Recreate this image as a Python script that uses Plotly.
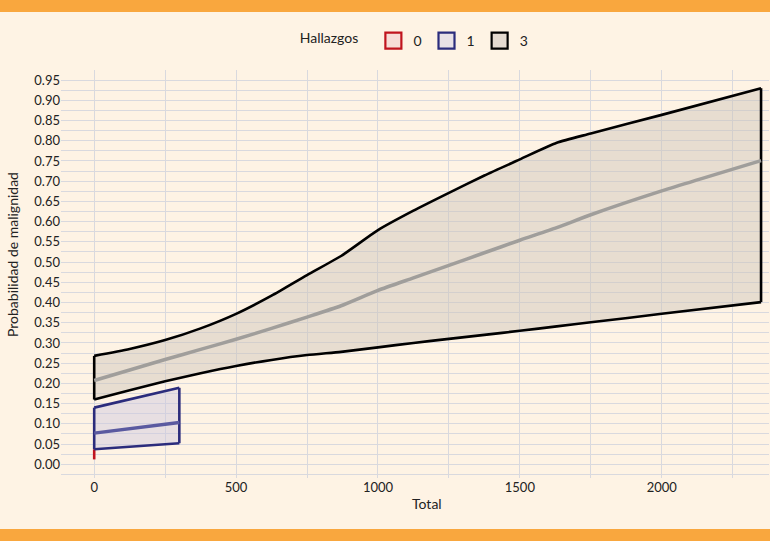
import plotly.graph_objects as go

# ---- data ----
total_3 = [0, 125, 250, 375, 500, 625, 750, 870, 1000, 1125, 1250, 1375, 1500, 1630, 1750, 2000, 2350]
upper_3 = [0.268, 0.285, 0.307, 0.336, 0.372, 0.417, 0.468, 0.515, 0.579, 0.627, 0.671, 0.714, 0.754, 0.795, 0.818, 0.864, 0.930]
lower_3 = [0.160, 0.183, 0.205, 0.225, 0.243, 0.258, 0.270, 0.278, 0.289, 0.300, 0.310, 0.320, 0.330, 0.341, 0.351, 0.372, 0.401]
mean_3 = [0.207, 0.233, 0.259, 0.284, 0.309, 0.336, 0.364, 0.392, 0.430, 0.461, 0.492, 0.523, 0.554, 0.585, 0.617, 0.676, 0.751]

total_1 = [0, 300]
upper_1 = [0.140, 0.189]
lower_1 = [0.037, 0.052]
mean_1 = [0.077, 0.103]

total_0 = [0]
upper_0 = [0.037]
lower_0 = [0.012]

y_ticks = [round(0.05 * i, 2) for i in range(20)]
x_ticks = [0, 500, 1000, 1500, 2000]

FONT = "Lato"
BG = "#FEF3E4"
ORANGE = "#F9A73E"
GRID = "#D9D9DE"
TXT = "#222222"


def poly(xs, up, lo):
    px = list(xs) + list(reversed(xs)) + [xs[0]]
    py = list(up) + list(reversed(lo)) + [up[0]]
    return px, py


fig = go.Figure()

groups = [
    ("0", total_0, upper_0, lower_0, None, "#C0141E", "rgba(245,205,205,0.6)", None, "#F7DDD7"),
    ("1", total_1, upper_1, lower_1, mean_1, "#2B2C7C", "rgba(205,200,225,0.45)", "#5A5AA0", "#E8E1E6"),
    ("3", total_3, upper_3, lower_3, mean_3, "#000000", "rgba(205,195,185,0.45)", "#A09E9B", "#E4DAD0"),
]

LW = 2.6
for name, xs, up, lo, mn, col, fillc, mcol, keyc in groups:
    px, py = poly(xs, up, lo)
    # shaded band
    fig.add_trace(go.Scatter(
        x=px, y=py, mode="lines", fill="toself", fillcolor=fillc,
        line=dict(width=0), showlegend=False, hoverinfo="skip"))
    # upper / lower bounds
    for arr in (up, lo):
        fig.add_trace(go.Scatter(
            x=xs, y=arr, mode="lines",
            line=dict(color=col, width=LW, shape="spline", smoothing=0.6),
            showlegend=False, hoverinfo="skip"))
    # end edges
    for i in ([0, -1] if len(xs) > 1 else [0]):
        fig.add_trace(go.Scatter(
            x=[xs[i], xs[i]], y=[lo[i], up[i]], mode="lines",
            line=dict(color=col, width=LW), showlegend=False, hoverinfo="skip"))
    if mn is not None:
        fig.add_trace(go.Scatter(
            x=xs, y=mn, mode="lines",
            line=dict(color=mcol, width=3.5, shape="spline", smoothing=0.6),
            showlegend=False, hoverinfo="skip"))
    # legend key
    fig.add_trace(go.Scatter(
        x=[None], y=[None], name=name, mode="markers",
        marker=dict(symbol="square", size=20, color=keyc,
                    line=dict(color=col, width=2.2))))

# theme bars
fig.add_shape(type="rect", xref="paper", yref="paper",
              x0=-0.2, x1=1.2, y0=1 + 58 / 408, y1=1 + 80 / 408,
              fillcolor=ORANGE, line=dict(width=0), layer="below")
fig.add_shape(type="rect", xref="paper", yref="paper",
              x0=-0.2, x1=1.2, y0=-0.2, y1=-51 / 408,
              fillcolor=ORANGE, line=dict(width=0), layer="below")

fig.add_annotation(text="Total", xref="paper", yref="paper",
                   x=(427 - 61) / 708, y=-(503 - 478) / 408,
                   showarrow=False, xanchor="center", yanchor="middle",
                   font=dict(family=FONT, size=14, color=TXT))
fig.add_annotation(text="Probabilidad de malignidad", xref="paper", yref="paper",
                   x=-(61 - 12) / 708, y=(478 - 255) / 408, textangle=-90,
                   showarrow=False, xanchor="center", yanchor="middle",
                   font=dict(family=FONT, size=14, color=TXT))

fig.update_layout(
    width=770, height=541,
    margin=dict(l=61, r=1, t=70, b=63),
    paper_bgcolor=BG, plot_bgcolor=BG,
    font=dict(family=FONT, size=13, color=TXT),
    showlegend=True,
    legend=dict(orientation="h", x=0.501, xanchor="center",
                yref="container", y=1 - 41 / 541, yanchor="middle",
                title=dict(text="Hallazgos  ", font=dict(size=14)),
                font=dict(size=14), bgcolor="rgba(0,0,0,0)",
                itemwidth=30),
    xaxis=dict(range=[-117, 2378], tickvals=x_ticks, showgrid=True,
               gridcolor=GRID, gridwidth=1, zeroline=False, showline=False,
               ticks="", tickfont=dict(size=13),
               minor=dict(dtick=250, tick0=0, showgrid=True, gridcolor=GRID, gridwidth=1)),
    yaxis=dict(range=[-0.034, 0.975], tickvals=y_ticks, tickformat=".2f",
               showgrid=True, gridcolor=GRID, gridwidth=1, zeroline=False,
               showline=False, ticks="", tickfont=dict(size=13),
               minor=dict(dtick=0.025, tick0=0, showgrid=True, gridcolor=GRID, gridwidth=1)),
)

fig.write_html("out.html", config={"displayModeBar": False},
               post_script="document.body.style.margin='0';document.body.style.background='%s';" % BG)
